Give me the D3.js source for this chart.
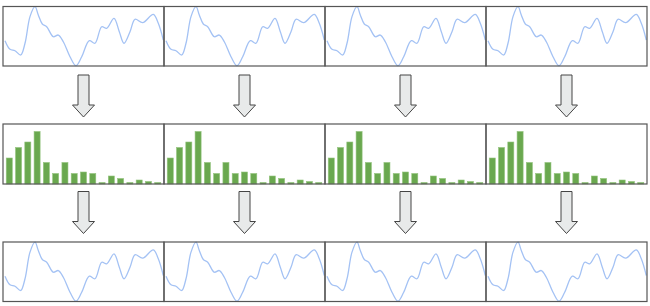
<!DOCTYPE html>
<html>
<head>
<meta charset="utf-8">
<script src="https://cdn.jsdelivr.net/npm/d3@7"></script>
<style>
  body { margin: 0; background: #fff; }
  svg { display: block; }
</style>
</head>
<body>
<svg id="chart"></svg>
<script>
// signal trace (t = sample position, v = level 0..100)
var waveT = [2, 7, 12, 17.7, 22, 27, 32, 35.3, 39.3, 43.7, 50.3, 55.3, 60.3, 67, 73, 78.7,
             86.3, 92, 98.7, 103.7, 111, 116.3, 121, 127, 132, 139.7, 150.3, 155.3, 160.3];
var waveV = [42.5, 28, 25.7, 18.5, 38.2, 83, 99.7, 85.7, 70.6, 66, 49.2, 52, 40.8, 15.6, 0.5, 15.6,
             42.5, 38.2, 66, 63.4, 80, 57.6, 38.2, 57.6, 78.5, 72.8, 86.9, 71.8, 43.7];

// spectrum magnitudes, one per bin
var bins = d3.range(17);
var magnitudes = [26, 36.5, 42, 52.5, 21.5, 10.5, 21.5, 10.5, 12, 10.5, 1.5, 8, 5.5, 1.5, 4, 2.5, 1.5];

var panels = [0, 1, 2, 3];

var width = 650, height = 306;
var svg = d3.select('#chart').attr('width', width).attr('height', height);

var boxW = 161;
var colX = d3.scaleLinear().domain([0, 1]).range([3, 3 + boxW]);

var rows = {
  top: { y: 6.5, h: 59.5 },
  mid: { y: 124, h: 60 },
  bot: { y: 242, h: 59.5 }
};

var wavePts = waveT.map(function(t, i) { return [t, waveV[i]]; });

var drawWave = function(g, row) {
  var x = d3.scaleLinear().domain([0, boxW]).range([0, boxW]);
  var y = d3.scaleLinear().domain([0, 100]).range([row.h, 0]);
  var line = d3.line()
    .x(function(d) { return x(d[0]); })
    .y(function(d) { return y(d[1]); })
    .curve(d3.curveCatmullRom.alpha(0.5));
  g.append('path')
    .datum(wavePts)
    .attr('d', line)
    .attr('fill', 'none')
    .attr('stroke', '#a4c2f4')
    .attr('stroke-width', 1.3);
};

var drawBars = function(g, row) {
  var x = d3.scaleBand().domain(bins).range([0, boxW]).paddingInner(0.35).paddingOuter(0.35);
  var y = d3.scaleLinear().domain([0, 60]).range([row.h, 0]);
  g.selectAll('rect')
    .data(magnitudes)
    .enter()
    .append('rect')
    .attr('x', function(d, i) { return x(i); })
    .attr('y', function(d) { return y(d); })
    .attr('width', x.bandwidth())
    .attr('height', function(d) { return row.h - y(d); })
    .attr('fill', '#6aa84f')
    .attr('stroke', '#93c47d')
    .attr('stroke-width', 0.6);
};

var drawRow = function(row, fn) {
  panels.forEach(function(p) {
    var g = svg.append('g').attr('transform', 'translate(' + colX(p) + ',' + row.y + ')');
    fn(g, row);
    g.append('rect')
      .attr('width', boxW)
      .attr('height', row.h)
      .attr('fill', 'none')
      .attr('stroke', '#555')
      .attr('stroke-width', 1.2);
  });
};

drawRow(rows.top, drawWave);
drawRow(rows.mid, drawBars);
drawRow(rows.bot, drawWave);

// down arrows between rows
var arrow = function(cx, top) {
  var sw = 5.5, hw = 11, shaft = 30, head = 12;
  var pts = [[-sw, 0], [sw, 0], [sw, shaft], [hw, shaft], [0, shaft + head],
             [-hw, shaft], [-sw, shaft], [-sw, 0]];
  svg.append('path')
    .attr('d', d3.line()(pts.map(function(q) { return [cx + q[0], top + q[1]]; })) + 'Z')
    .attr('fill', '#e8eaea')
    .attr('stroke', '#444')
    .attr('stroke-width', 1);
};

panels.forEach(function(p) {
  var cx = colX(p + 0.5);
  arrow(cx, 75);
  arrow(cx, 191.5);
});
</script>
</body>
</html>
